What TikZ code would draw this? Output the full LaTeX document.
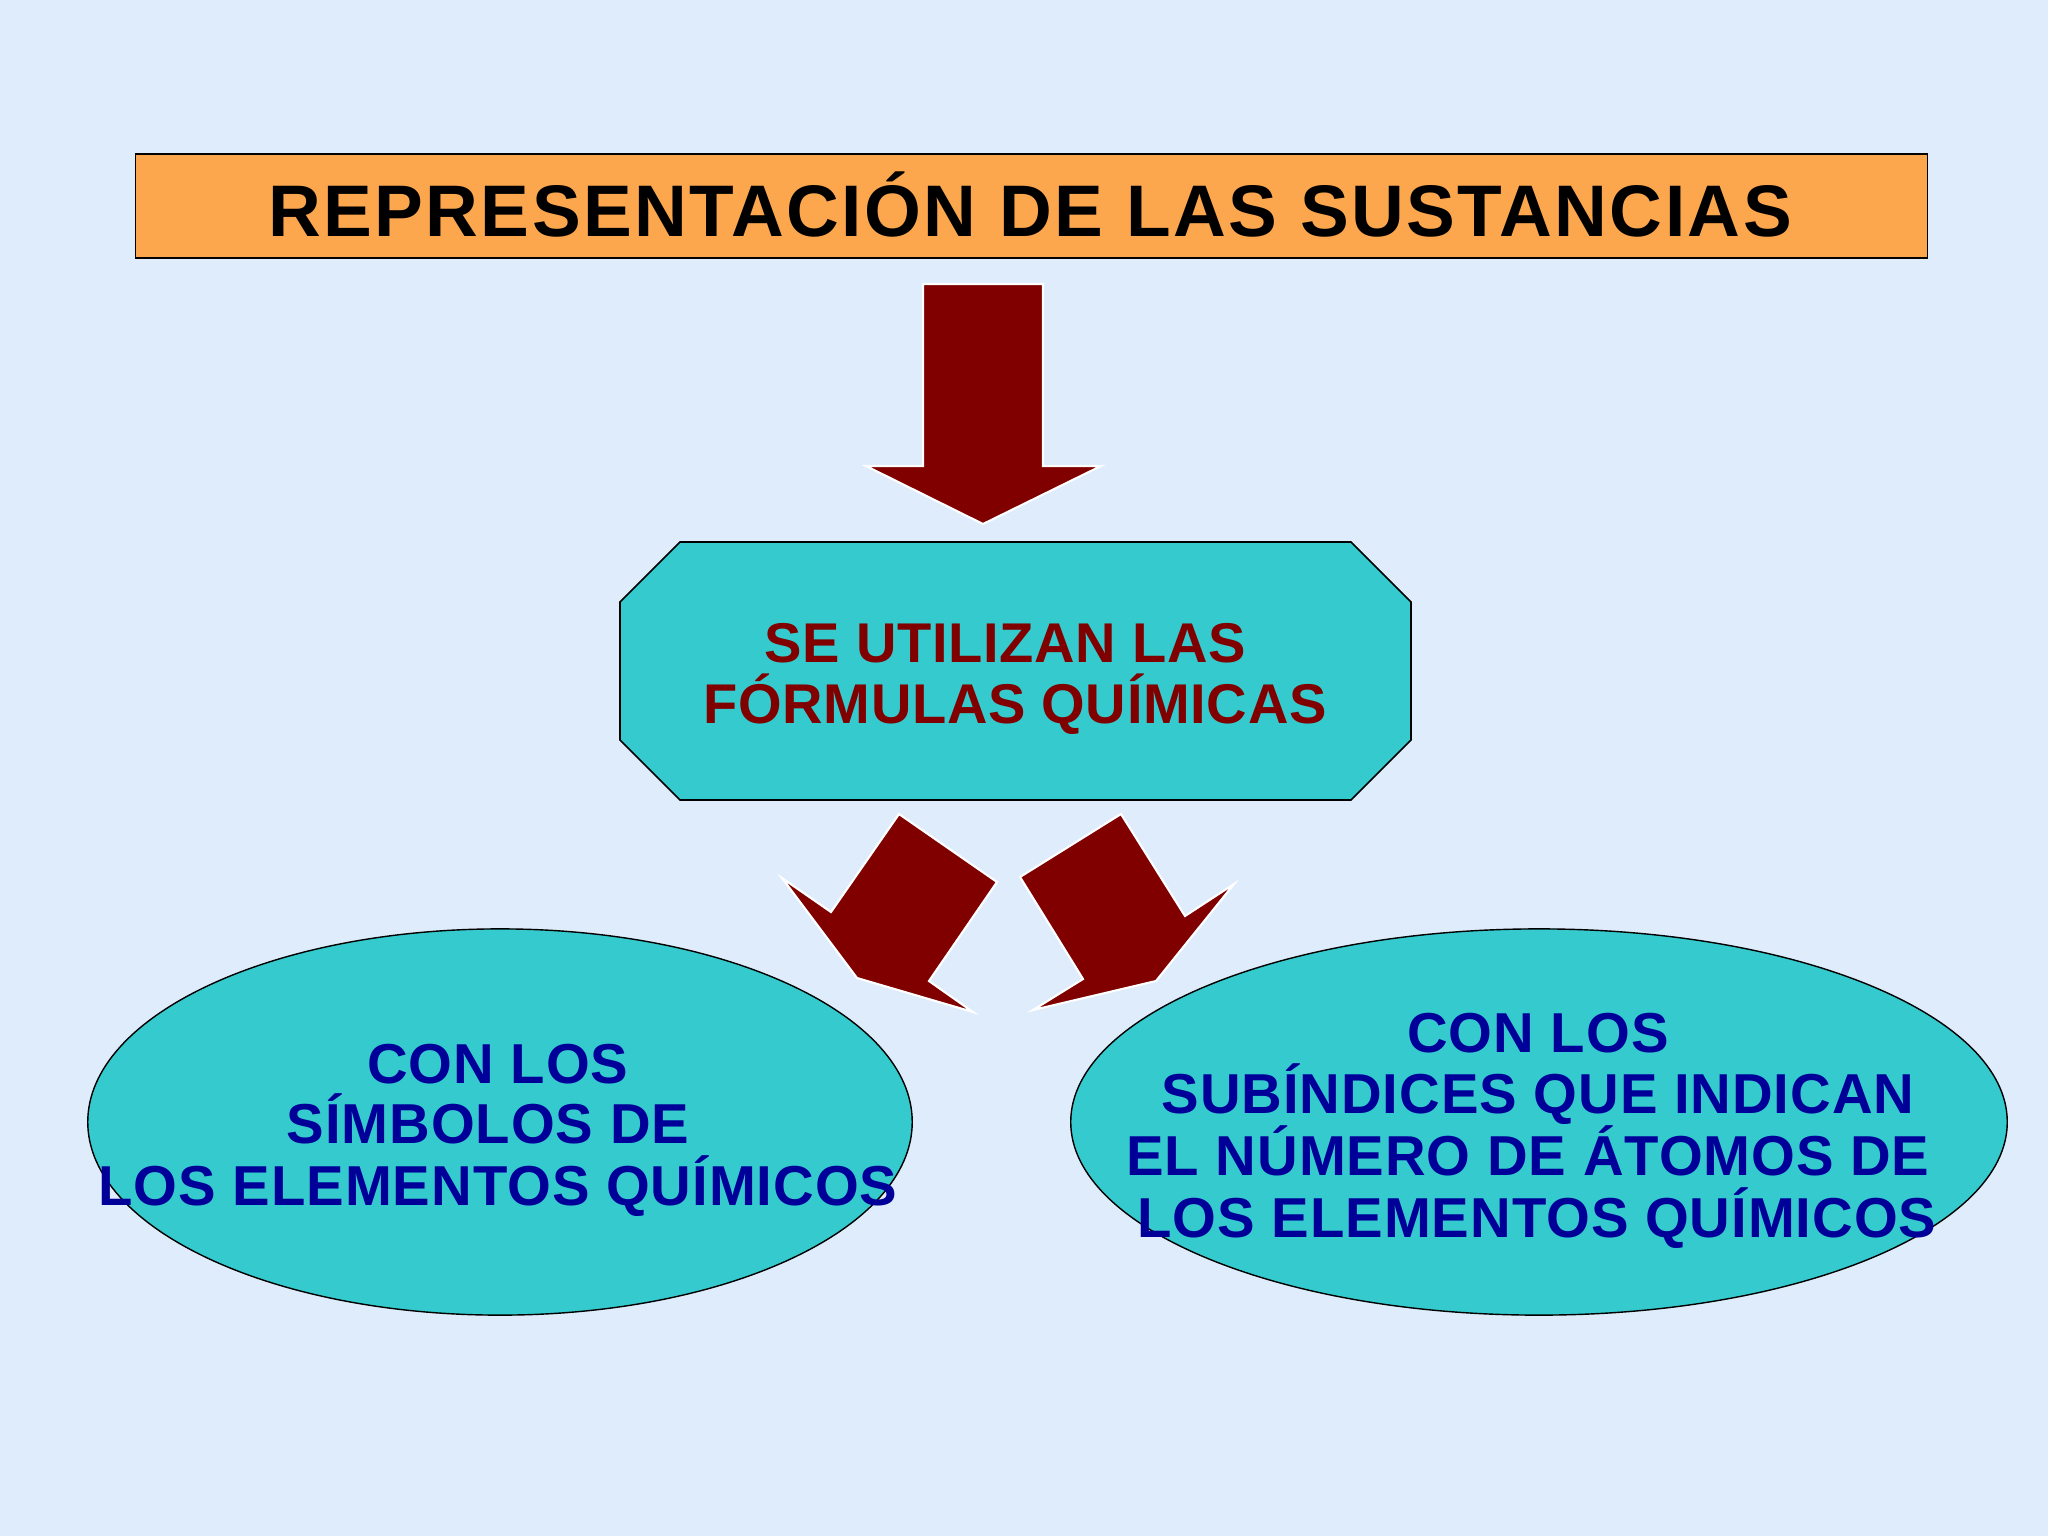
\documentclass[tikz,border=0pt]{standalone}
\usepackage{fontspec}
\setmainfont{Liberation Sans}
\newfontfamily\ttlfont{Liberation Sans}[LetterSpace=3.4]
\newfontfamily\boxfont{Liberation Sans}[LetterSpace=1.2]
\newfontfamily\ellfont{Liberation Sans}[LetterSpace=1.7]
\usetikzlibrary{shapes.geometric}
\definecolor{bg}{RGB}{223,236,252}
\definecolor{orng}{RGB}{252,166,78}
\definecolor{teal2}{RGB}{53,203,206}
\definecolor{dred}{RGB}{128,0,0}
\definecolor{dblue}{RGB}{0,0,153}
\tikzset{
  blockarrow/.style={fill=dred, draw=white, line width=0.6pt, line join=miter},
  titlebox/.style={draw=black, line width=0.5pt, fill=orng, inner sep=0pt},
  octbox/.style={draw=black, line width=0.45pt, fill=teal2},
  bubble/.style={ellipse, draw=black, line width=0.4pt, fill=teal2, inner sep=0pt},
  ttltext/.style={anchor=base, inner sep=0pt, text=black, font=\ttlfont\bfseries\fontsize{20.77pt}{24pt}\selectfont},
  octtext/.style={anchor=base, inner sep=0pt, text=dred, font=\boxfont\bfseries\fontsize{15.93pt}{18pt}\selectfont},
  elltext/.style={anchor=base, inner sep=0pt, text=dblue, font=\ellfont\bfseries\fontsize{16.0pt}{18pt}\selectfont}
}
\begin{document}
\begin{tikzpicture}[x=0.01cm, y=-0.01cm]
\useasboundingbox (0,0) rectangle (2048,1536);
\fill[bg] (0,0) rectangle (2048,1536);

% title
\node[titlebox, minimum width=17.91cm, minimum height=1.04cm] (title) at (1031.5,206) {};
\node[ttltext] (titletxt) at (1030,236) {REPRESENTACIÓN DE LAS SUSTANCIAS};

% down arrow
\draw[blockarrow] (923,284) -- (1043,284) -- (1043,466) -- (1101,466) -- (983,524) -- (866,466) -- (923,466) -- cycle;

% octagon
\coordinate (oct) at (1015.5,671);
\draw[octbox] (620,602) -- (680,542) -- (1351,542) -- (1411,602) -- (1411,740) -- (1351,800) -- (680,800) -- (620,740) -- cycle;
\node[octtext] (oct1) at (1005,662) {SE UTILIZAN LAS};
\node[octtext] (oct2) at (1015,723) {FÓRMULAS QUÍMICAS};

% small arrows
\draw[blockarrow] (899,814) -- (997,882) -- (929,981) -- (973,1012) -- (857,978) -- (782,878) -- (831,912) -- cycle;
\draw[blockarrow] (1020,877) -- (1121,814) -- (1185,916) -- (1234,884) -- (1156,981) -- (1033,1010) -- (1083,979) -- cycle;

% ellipses
\node[bubble, minimum width=8.24cm, minimum height=3.86cm] (left) at (500,1122) {};
\node[bubble, minimum width=9.36cm, minimum height=3.86cm] (right) at (1539,1122) {};

\node[elltext] (l1) at (498,1083) {CON LOS};
\node[elltext] (l2) at (488,1143) {SÍMBOLOS DE};
\node[elltext] (l3) at (498,1205) {LOS ELEMENTOS QUÍMICOS};

\node[elltext] (r1) at (1538,1052) {CON LOS};
\node[elltext] (r2) at (1538,1113) {SUBÍNDICES QUE INDICAN};
\node[elltext] (r3) at (1528,1175) {EL NÚMERO DE ÁTOMOS DE};
\node[elltext] (r4) at (1537,1237) {LOS ELEMENTOS QUÍMICOS};
\end{tikzpicture}
\end{document}
